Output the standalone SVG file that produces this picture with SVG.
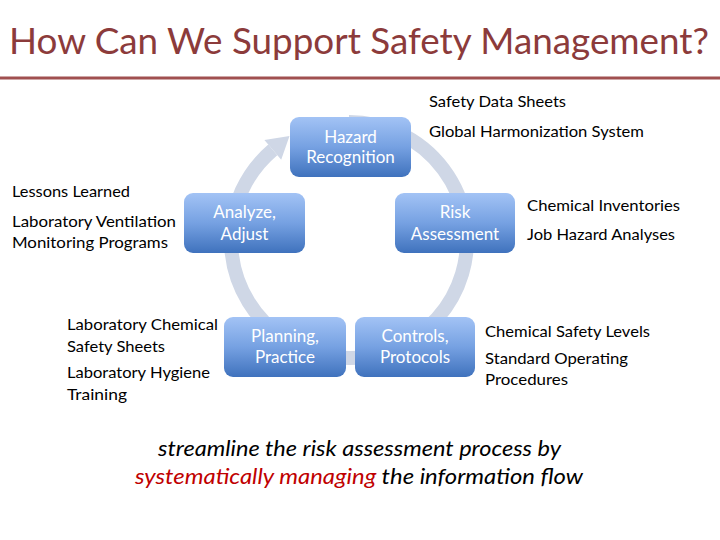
<svg xmlns="http://www.w3.org/2000/svg" width="720" height="540" viewBox="0 0 720 540">
<defs>
<linearGradient id="nodeGrad" x1="0" y1="0" x2="0" y2="1">
<stop offset="0" stop-color="#a3c3f5"/>
<stop offset="0.5" stop-color="#76a1e2"/>
<stop offset="1" stop-color="#3f72bd"/>
</linearGradient>
<style>
.title{font-family:Lato,"Open Sans",sans-serif;font-size:36px;fill:#8c3b3b}
.lbl{font-family:Lato,"Open Sans",sans-serif;font-size:15px;fill:#000}
.nt{font-family:Lato,"Open Sans",sans-serif;font-size:17px;fill:#fff;text-anchor:middle}
.node{fill:url(#nodeGrad)}
.ring{fill:none;stroke:#cfd7e6;stroke-width:14}
.foot{font-family:Lato,"Open Sans",sans-serif;font-size:22px;font-style:italic;fill:#000}
</style>
</defs>
<rect width="720" height="540" fill="#fff"/>
<text class="title" x="9" y="54" textLength="700" lengthAdjust="spacingAndGlyphs">How Can We Support Safety Management?</text>
<line x1="0" y1="78" x2="720" y2="78" stroke="#a05050" stroke-width="3"/>

<g id="connectors">
<path class="ring" d="M349 122 A118 118 0 1 1 272.8 149.9"/>
<polygon points="289.5,136 264.4,140.0 281.2,159.8" fill="#cfd7e6"/>
</g>

<g id="hazard">
<rect class="node" x="290" y="117" width="121" height="60" rx="9"/>
<text class="nt" x="350.5" y="143">Hazard</text>
<text class="nt" x="350.5" y="163">Recognition</text>
</g>
<g id="risk">
<rect class="node" x="395" y="193" width="120" height="60" rx="9"/>
<text class="nt" x="455" y="218">Risk</text>
<text class="nt" x="455" y="240">Assessment</text>
</g>
<g id="controls">
<rect class="node" x="355" y="317" width="120" height="60" rx="9"/>
<text class="nt" x="415" y="342">Controls,</text>
<text class="nt" x="415" y="363">Protocols</text>
</g>
<g id="planning">
<rect class="node" x="224" y="317" width="122" height="60" rx="9"/>
<text class="nt" x="285" y="342">Planning,</text>
<text class="nt" x="285" y="363">Practice</text>
</g>
<g id="analyze">
<rect class="node" x="184" y="193" width="121" height="60" rx="9"/>
<text class="nt" x="244.5" y="218">Analyze,</text>
<text class="nt" x="244.5" y="240">Adjust</text>
</g>

<g id="labels">
<text class="lbl" x="429" y="107" textLength="137" lengthAdjust="spacingAndGlyphs">Safety Data Sheets</text>
<text class="lbl" x="429" y="137" textLength="215" lengthAdjust="spacingAndGlyphs">Global Harmonization System</text>
<text class="lbl" x="12" y="197" textLength="118" lengthAdjust="spacingAndGlyphs">Lessons Learned</text>
<text class="lbl" x="12" y="227" textLength="164" lengthAdjust="spacingAndGlyphs">Laboratory Ventilation</text>
<text class="lbl" x="12" y="248" textLength="156" lengthAdjust="spacingAndGlyphs">Monitoring Programs</text>
<text class="lbl" x="67" y="330" textLength="151" lengthAdjust="spacingAndGlyphs">Laboratory Chemical</text>
<text class="lbl" x="67" y="352" textLength="98" lengthAdjust="spacingAndGlyphs">Safety Sheets</text>
<text class="lbl" x="67" y="378" textLength="143" lengthAdjust="spacingAndGlyphs">Laboratory Hygiene</text>
<text class="lbl" x="67" y="400" textLength="60" lengthAdjust="spacingAndGlyphs">Training</text>
<text class="lbl" x="527" y="211" textLength="153" lengthAdjust="spacingAndGlyphs">Chemical Inventories</text>
<text class="lbl" x="527" y="240" textLength="148" lengthAdjust="spacingAndGlyphs">Job Hazard Analyses</text>
<text class="lbl" x="485" y="337" textLength="165" lengthAdjust="spacingAndGlyphs">Chemical Safety Levels</text>
<text class="lbl" x="485" y="364" textLength="143" lengthAdjust="spacingAndGlyphs">Standard Operating</text>
<text class="lbl" x="485" y="385" textLength="83" lengthAdjust="spacingAndGlyphs">Procedures</text>
</g>

<g id="footer">
<text class="foot" x="158" y="456" textLength="403" lengthAdjust="spacingAndGlyphs">streamline the risk assessment process by</text>
<text class="foot" x="135" y="484" textLength="448" lengthAdjust="spacingAndGlyphs"><tspan fill="#c00000">systematically managing</tspan> the information flow</text>
</g>
</svg>
